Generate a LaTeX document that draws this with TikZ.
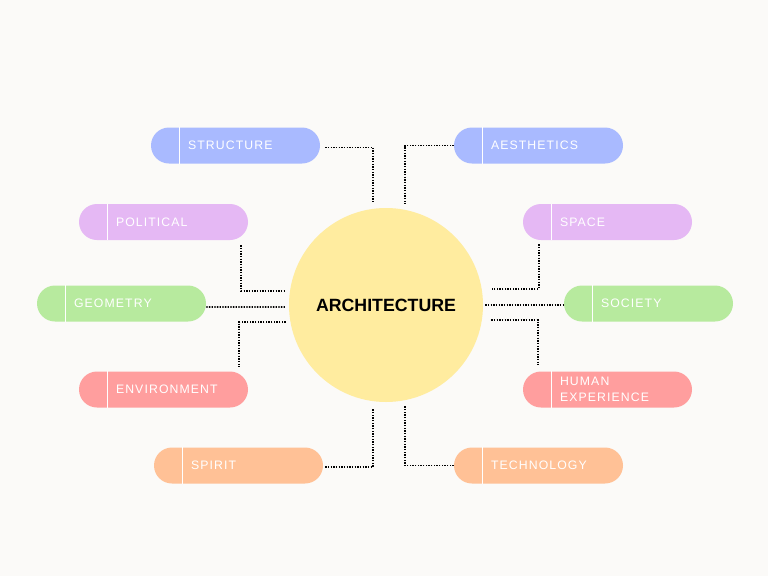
\documentclass[tikz,border=0pt]{standalone}
\usepackage{fontspec}
\setmainfont{Liberation Sans}
\newfontfamily\lblfont[LetterSpace=9]{Liberation Sans}
\usetikzlibrary{positioning}
\definecolor{bgc}{HTML}{FBFAF8}
\definecolor{bluep}{HTML}{A9BAFF}
\definecolor{purplep}{HTML}{E5B8F4}
\definecolor{greenp}{HTML}{B7EA9E}
\definecolor{redp}{HTML}{FF9E9E}
\definecolor{orangep}{HTML}{FFC196}
\definecolor{yellowc}{HTML}{FFEC9F}
\tikzset{
	pill/.style={minimum width=126.75pt, minimum height=27pt, rounded corners=13.5pt, inner sep=0pt},
	lbl/.style={anchor=west, text=white, font=\lblfont\fontsize{9.2}{12}\selectfont, align=left, inner sep=0pt},
	link/.style={line width=1.2pt, dash pattern=on 1pt off 1pt},
	divider/.style={white, line width=1.1pt}
}
\begin{document}
\begin{tikzpicture}[x=0.75pt,y=-0.75pt]
	\fill[bgc] (0,0) rectangle (768,576);
	\useasboundingbox (0,0) rectangle (768,576);
	% Centre
	\node[circle, fill=yellowc, minimum size=145.5pt, inner sep=0pt, font=\bfseries\fontsize{13.3}{16}\selectfont] (arch) at (386,305) {ARCHITECTURE};
	
	% Pills
	\node[pill, fill=bluep] (structure) at (235.5,145.5) {};
	\node[pill, fill=bluep] (aesthetics) at (538.5,145.5) {};
	\node[pill, fill=purplep] (political) at (163.5,222) {};
	\node[pill, fill=purplep] (space) at (607.5,222) {};
	\node[pill, fill=greenp] (geometry) at (121.5,303.5) {};
	\node[pill, fill=greenp] (society) at (648.5,303.5) {};
	\node[pill, fill=redp] (environment) at (163.5,389.5) {};
	\node[pill, fill=redp] (human) at (607.5,389.5) {};
	\node[pill, fill=orangep] (spirit) at (238.5,465.5) {};
	\node[pill, fill=orangep] (technology) at (538.5,465.5) {};
	
	% Dividers and texts
	\foreach \p/\t in {structure/STRUCTURE, aesthetics/AESTHETICS, political/POLITICAL, space/SPACE, geometry/GEOMETRY, society/SOCIETY, environment/ENVIRONMENT, human/{HUMAN\\EXPERIENCE}, spirit/SPIRIT, technology/TECHNOLOGY}{
		\draw[divider] ([xshift=21.75pt]\p.north west) -- ([xshift=21.75pt]\p.south west);
		\node[lbl] (\p-text) at ([xshift=27.75pt]\p.west) {\t};
	}
	
	% Links, left side
	\draw[link] ([xshift=3.75pt,yshift=-1.5pt]structure.east) -| ([xshift=-9.75pt,yshift=3pt]arch.north);
	\draw[link] ([xshift=-5.25pt,yshift=-3.75pt]political.south east) |- ([xshift=-2.25pt,yshift=10.5pt]arch.west);
	\draw[link] ([yshift=-2.6pt]geometry.east) -- ([xshift=-2.25pt,yshift=-1.5pt]arch.west);
	\draw[link] ([xshift=-2.25pt,yshift=-12.75pt]arch.west) -| ([xshift=-6.75pt,yshift=3pt]environment.north east);
	\draw[link] ([xshift=1.5pt,yshift=-1pt]spirit.east) -| ([xshift=-9.75pt,yshift=-4.5pt]arch.south);
	% Links, right side
	\draw[link] (aesthetics.west) -| ([xshift=14.25pt,yshift=3pt]arch.north);
	\draw[link] ([xshift=12pt,yshift=-3pt]space.south west) |- ([xshift=6.75pt,yshift=12pt]arch.east);
	\draw[link] ([xshift=1.5pt]arch.east) -- (arch.east -| society.west);
	\draw[link] ([xshift=6pt,yshift=-11.25pt]arch.east) -| ([xshift=11.25pt,yshift=4.5pt]human.north west);
	\draw[link] (technology.west) -| ([xshift=14.25pt,yshift=-3pt]arch.south);
\end{tikzpicture}
\end{document}
